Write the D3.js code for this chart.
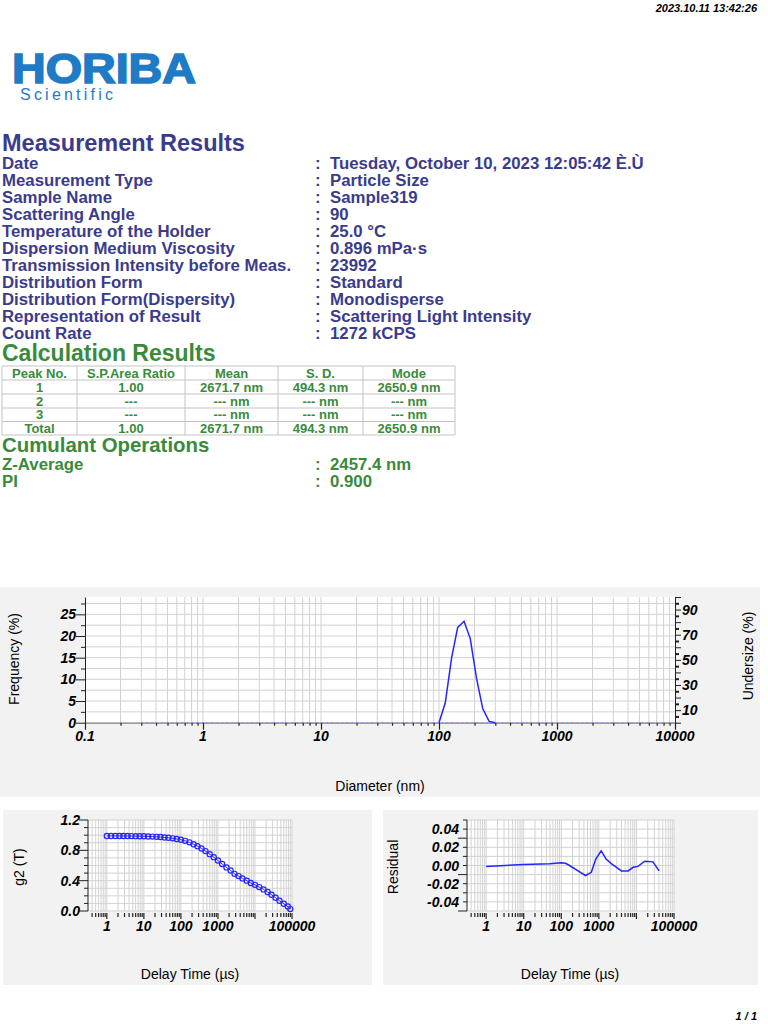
<!DOCTYPE html>
<html>
<head>
<meta charset="utf-8">
<script src="https://cdn.jsdelivr.net/npm/d3@7"></script>
<style>
  body { margin: 0; background: #fff; }
  svg { display: block; }
</style>
</head>
<body>
<script>
// ---- data ----
const timestamp = "2023.10.11 13:42:26";
const infoLabels = ["Date", "Measurement Type", "Sample Name", "Scattering Angle", "Temperature of the Holder",
  "Dispersion Medium Viscosity", "Transmission Intensity before Meas.", "Distribution Form",
  "Distribution Form(Dispersity)", "Representation of Result", "Count Rate"];
const infoValues = ["Tuesday, October 10, 2023 12:05:42 È.Ù", "Particle Size", "Sample319", "90", "25.0 °C",
  "0.896 mPa·s", "23992", "Standard", "Monodisperse", "Scattering Light Intensity", "1272 kCPS"];

const tableHeader = ["Peak No.", "S.P.Area Ratio", "Mean", "S. D.", "Mode"];
const tableRows = [
  ["1", "1.00", "2671.7 nm", "494.3 nm", "2650.9 nm"],
  ["2", "---", "--- nm", "--- nm", "--- nm"],
  ["3", "---", "--- nm", "--- nm", "--- nm"],
  ["Total", "1.00", "2671.7 nm", "494.3 nm", "2650.9 nm"]
];
const cumulantLabels = ["Z-Average", "PI"];
const cumulantValues = ["2457.4 nm", "0.900"];

// size distribution
const diameter = [100, 113, 128, 144, 163, 184, 208, 235, 266, 300];
const frequency = [0, 4.6, 15, 22, 23.4, 19.4, 10.2, 3.2, 0.3, 0];
const undersizeX = [0.3, 10000];
const undersize = [0, 0];
const freqTickLabels = [0, 5, 10, 15, 20, 25];
const underTickLabels = [10, 30, 50, 70, 90];
const diamTickLabels = [0.1, 1, 10, 100, 1000, 10000];

// correlation function
const delayTime = [1, 1.3, 1.7, 2.2, 2.8, 3.6, 4.6, 6, 7.7, 10, 13, 17, 22, 28, 36, 46, 60, 77, 100, 130, 170,
  220, 280, 360, 460, 600, 770, 1000, 1300, 1700, 2200, 2800, 3600, 4600, 6000, 7700, 10000, 13000, 17000,
  22000, 28000, 36000, 46000, 60000, 77000, 90000];
const g2 = [0.99, 0.99, 0.99, 0.99, 0.99, 0.99, 0.988, 0.987, 0.986, 0.985, 0.983, 0.981, 0.978, 0.975, 0.97,
  0.965, 0.958, 0.95, 0.94, 0.925, 0.905, 0.88, 0.855, 0.825, 0.79, 0.75, 0.71, 0.665, 0.62, 0.575, 0.535,
  0.49, 0.46, 0.43, 0.40, 0.37, 0.345, 0.315, 0.285, 0.25, 0.215, 0.175, 0.135, 0.095, 0.06, 0.025];
const g2TickLabels = [0, 0.4, 0.8, 1.2];

// residual
const resTime = [1, 10, 50, 100, 130, 166, 280, 440, 630, 830, 1150, 1560, 2150, 4000, 6000, 8200, 11000,
  16700, 27700, 40000];
const residual = [-0.001, 0.001, 0.002, 0.003, 0.0025, 0, -0.006, -0.011, -0.0075, 0.007, 0.016, 0.007,
  0.002, -0.006, -0.006, -0.002, -0.001, 0.0047, 0.004, -0.006];
const resTickLabels = [-0.04, -0.02, 0, 0.02, 0.04];
const delayTickLabels = [1, 10, 100, 1000, 100000];

// ---- drawing ----
const FONT = "'Liberation Sans', Arial, sans-serif";
const purple = "#3b3b8c", green = "#3a8a3c", blue = "#1f7bc6", grid = "#d2d2d2", lineBlue = "#2424ff";

const svg = d3.select("body").append("svg").attr("width", 768).attr("height", 1024)
  .style("font-family", FONT);

svg.append("text").attr("x", 757).attr("y", 12).attr("text-anchor", "end")
  .style("font-size", "11px").style("font-weight", "bold").style("font-style", "italic")
  .text(timestamp);
svg.append("text").attr("x", 757).attr("y", 1020).attr("text-anchor", "end")
  .style("font-size", "11px").style("font-weight", "bold").style("font-style", "italic")
  .text("1 / 1");

// logo
svg.append("text").attr("x", 12).attr("y", 83).attr("fill", blue).attr("stroke", blue).attr("stroke-width", 1.6)
  .attr("textLength", 184).attr("lengthAdjust", "spacingAndGlyphs")
  .style("font-size", "42px").style("font-weight", "bold").text("HORIBA");
svg.append("text").attr("x", 20).attr("y", 100).attr("fill", blue)
  .attr("textLength", 93).attr("lengthAdjust", "spacing")
  .style("font-size", "16px").text("Scientific");

// measurement results
function heading(txt, y, color, size) {
  svg.append("text").attr("x", 2).attr("y", y).attr("fill", color)
    .style("font-size", size + "px").style("font-weight", "bold").text(txt);
}
heading("Measurement Results", 151, purple, 23.5);
const info = svg.append("g").attr("fill", purple).style("font-size", "16.8px").style("font-weight", "bold");
infoLabels.forEach((l, i) => {
  const y = 168.5 + i * 17;
  info.append("text").attr("x", 2).attr("y", y).text(l);
  info.append("text").attr("x", 315).attr("y", y).text(":");
  info.append("text").attr("x", 330).attr("y", y).text(infoValues[i]);
});

heading("Calculation Results", 361, green, 23);
const colX = [2, 77, 185, 278, 363, 455];
const rowY = [366, 380, 394, 408, 421.5, 435];
const tbl = svg.append("g");
rowY.forEach(y => tbl.append("line").attr("x1", colX[0]).attr("x2", colX[5]).attr("y1", y).attr("y2", y)
  .attr("stroke", "#c4c4c4"));
colX.forEach(x => tbl.append("line").attr("x1", x).attr("x2", x).attr("y1", rowY[0]).attr("y2", rowY[5])
  .attr("stroke", "#c4c4c4"));
[tableHeader].concat(tableRows).forEach((row, r) => {
  row.forEach((cell, c) => {
    tbl.append("text").attr("x", (colX[c] + colX[c + 1]) / 2).attr("y", (rowY[r] + rowY[r + 1]) / 2 + 4.5)
      .attr("text-anchor", "middle").attr("fill", green)
      .style("font-size", "13px").style("font-weight", "bold").text(cell);
  });
});

heading("Cumulant Operations", 452, green, 20.4);
cumulantLabels.forEach((l, i) => {
  const y = 469.5 + i * 17;
  const g = svg.append("g").attr("fill", green).style("font-size", "16.8px").style("font-weight", "bold");
  g.append("text").attr("x", 2).attr("y", y).text(l);
  g.append("text").attr("x", 315).attr("y", y).text(":");
  g.append("text").attr("x", 330).attr("y", y).text(cumulantValues[i]);
});

// ---- helpers for the charts ----
const tickFont = g => g.style("font-size", "14px").style("font-weight", "bold").style("font-style", "italic");

function panel(x, y, w, h) {
  svg.append("rect").attr("x", x).attr("y", y).attr("width", w).attr("height", h).attr("fill", "#f2f2f2");
}
function logGrid(g, x, y, ticks, hticks) {
  const [y0, y1] = y.range();
  const [x0, x1] = x.range();
  g.append("rect").attr("x", x0).attr("y", y1).attr("width", x1 - x0).attr("height", y0 - y1).attr("fill", "#fff");
  g.selectAll(".vg").data(ticks).join("line").attr("class", "vg")
    .attr("x1", d => x(d)).attr("x2", d => x(d)).attr("y1", y0).attr("y2", y1)
    .attr("stroke", grid).attr("stroke-width", 1);
  g.selectAll(".hg").data(hticks).join("line").attr("class", "hg")
    .attr("x1", x0).attr("x2", x1).attr("y1", d => y(d)).attr("y2", d => y(d))
    .attr("stroke", grid).attr("stroke-width", 1);
}
const isDecade = d => Math.abs(Math.log10(d) - Math.round(Math.log10(d))) < 1e-6;

// ---- size distribution chart ----
panel(0, 587, 760, 210);
const xD = d3.scaleLog().domain([0.1, 10000]).range([85, 675]);
const yF = d3.scaleLinear().domain([0, 29]).range([722.7, 597]);
const yU = d3.scaleLinear().domain([0, 100]).range([722.7, 597]);
const dist = svg.append("g");
const dTicks = xD.ticks().filter(d => d > 0.1 && d < 10000);
logGrid(dist, xD, yF, dTicks, d3.range(0, 29, 2.5));

dist.append("g").attr("transform", "translate(0,722.7)")
  .call(d3.axisBottom(xD).tickValues(xD.ticks()).tickFormat("").tickSize(3).tickSizeOuter(0))
  .call(g => g.select(".domain").attr("stroke", "#777"))
  .call(g => g.selectAll(".tick line").attr("stroke", "#222").attr("stroke-width", 1.2)
    .attr("y2", d => isDecade(d) ? 7 : 3));
dist.append("g").call(g => tickFont(g))
  .selectAll("text").data(diamTickLabels).join("text")
  .attr("x", d => xD(d)).attr("y", 741).attr("text-anchor", "middle").text(d => d);

dist.append("g").attr("transform", "translate(85,0)")
  .call(d3.axisLeft(yF).tickValues(d3.range(0, 29, 2.5)).tickSize(4).tickSizeOuter(0).tickFormat(""))
  .call(g => g.select(".domain").attr("stroke", "#222"))
  .call(g => g.selectAll(".tick line").attr("stroke", "#222").attr("x2", d => d % 5 === 0 ? -9 : -4));
dist.append("g").call(g => tickFont(g))
  .selectAll("text").data(freqTickLabels).join("text")
  .attr("x", 76).attr("y", d => yF(d) + 5).attr("text-anchor", "end").text(d => d);

dist.append("g").attr("transform", "translate(675,0)")
  .call(d3.axisRight(yU).tickValues(d3.range(0, 101, 5)).tickSize(4).tickSizeOuter(0).tickFormat(""))
  .call(g => g.select(".domain").attr("stroke", "#222"))
  .call(g => g.selectAll(".tick line").attr("stroke", "#222").attr("x2", d => d % 10 === 0 ? 6 : 4)
    .attr("stroke-width", d => d % 10 === 0 ? 1 : 2));
dist.append("g").call(g => tickFont(g))
  .selectAll("text").data(underTickLabels).join("text")
  .attr("x", 682).attr("y", d => yU(d) + 5).text(d => d);

dist.append("path").datum(undersizeX.map((d, i) => [d, undersize[i]]))
  .attr("d", d3.line().x(d => xD(d[0])).y(d => yU(d[1])))
  .attr("fill", "none").attr("stroke", "#8c8cff").attr("stroke-width", 1).attr("stroke-dasharray", "2,3");
dist.append("path").datum(diameter.map((d, i) => [d, frequency[i]]))
  .attr("d", d3.line().x(d => xD(d[0])).y(d => yF(d[1])))
  .attr("fill", "none").attr("stroke", lineBlue).attr("stroke-width", 1.5);

svg.append("text").attr("transform", "translate(19,659) rotate(-90)").attr("text-anchor", "middle")
  .style("font-size", "14px").text("Frequency (%)");
svg.append("text").attr("transform", "translate(753,656) rotate(-90)").attr("text-anchor", "middle")
  .style("font-size", "14px").text("Undersize (%)");
svg.append("text").attr("x", 380).attr("y", 791).attr("text-anchor", "middle")
  .style("font-size", "14px").text("Diameter (nm)");

// ---- small charts ----
function delayChart(left, x0, x1, yScaleDomain, hStep, yLabels, fmt, title) {
  panel(left, 810, left === 3 ? 369 : 375, 175);
  const x = d3.scaleLog().domain([0.31, 100000]).range([x0, x1]);
  const y = d3.scaleLinear().domain(yScaleDomain).range([911, 820]);
  const g = svg.append("g");
  const hs = d3.range(yScaleDomain[0], yScaleDomain[1] + hStep / 2, hStep);
  logGrid(g, x, y, x.ticks().filter(d => d > 0.31), hs);

  const ticks = x.ticks().filter(d => d >= 0.4);
  g.selectAll(".bt").data(ticks).join("line")
    .attr("x1", d => x(d)).attr("x2", d => x(d))
    .attr("y1", 913).attr("y2", d => isDecade(d) ? 919 : 917)
    .attr("stroke", "#222").attr("stroke-width", 1.2);
  g.append("line").attr("x1", x0).attr("x2", x0).attr("y1", 820).attr("y2", 911).attr("stroke", "#222");
  g.selectAll(".lt").data(hs).join("line")
    .attr("x1", x0).attr("x2", (d, i) => i % 4 === 0 ? x0 - 9 : x0 - 4)
    .attr("y1", d => y(d)).attr("y2", d => y(d)).attr("stroke", "#222");
  g.append("g").call(t => tickFont(t)).selectAll("text").data(yLabels).join("text")
    .attr("x", x0 - 8).attr("y", d => y(d) + 5).attr("text-anchor", "end").text(fmt);
  g.append("g").call(t => tickFont(t)).selectAll("text").data(delayTickLabels).join("text")
    .attr("x", d => x(d)).attr("y", 931).attr("text-anchor", "middle").text(d => d);

  svg.append("text").attr("x", (left === 3 ? 190 : 570)).attr("y", 979).attr("text-anchor", "middle")
    .style("font-size", "14px").text("Delay Time (µs)");
  svg.append("text").attr("transform", `translate(${left === 3 ? 24 : 398},867) rotate(-90)`)
    .attr("text-anchor", "middle").style("font-size", "14px").text(title);
  return { g, x, y };
}

const c1 = delayChart(3, 88, 292, [0, 1.2], 0.1, g2TickLabels, d => d.toFixed(1), "g2 (T)");
c1.g.append("path").datum(delayTime.map((d, i) => [d, g2[i]]))
  .attr("d", d3.line().x(d => c1.x(d[0])).y(d => c1.y(d[1])))
  .attr("fill", "none").attr("stroke", lineBlue).attr("stroke-width", 1);
c1.g.selectAll("circle").data(delayTime.map((d, i) => [d, g2[i]])).join("circle")
  .attr("cx", d => c1.x(d[0])).attr("cy", d => c1.y(d[1])).attr("r", 2.6)
  .attr("fill", "none").attr("stroke", lineBlue).attr("stroke-width", 1.2);

const c2 = delayChart(383, 467, 674, [-0.05, 0.05], 0.01, resTickLabels, d => d.toFixed(2), "Residual");
c2.g.append("path").datum(resTime.map((d, i) => [d, residual[i]]))
  .attr("d", d3.line().x(d => c2.x(d[0])).y(d => c2.y(d[1])))
  .attr("fill", "none").attr("stroke", lineBlue).attr("stroke-width", 1.5);
</script>
</body>
</html>
